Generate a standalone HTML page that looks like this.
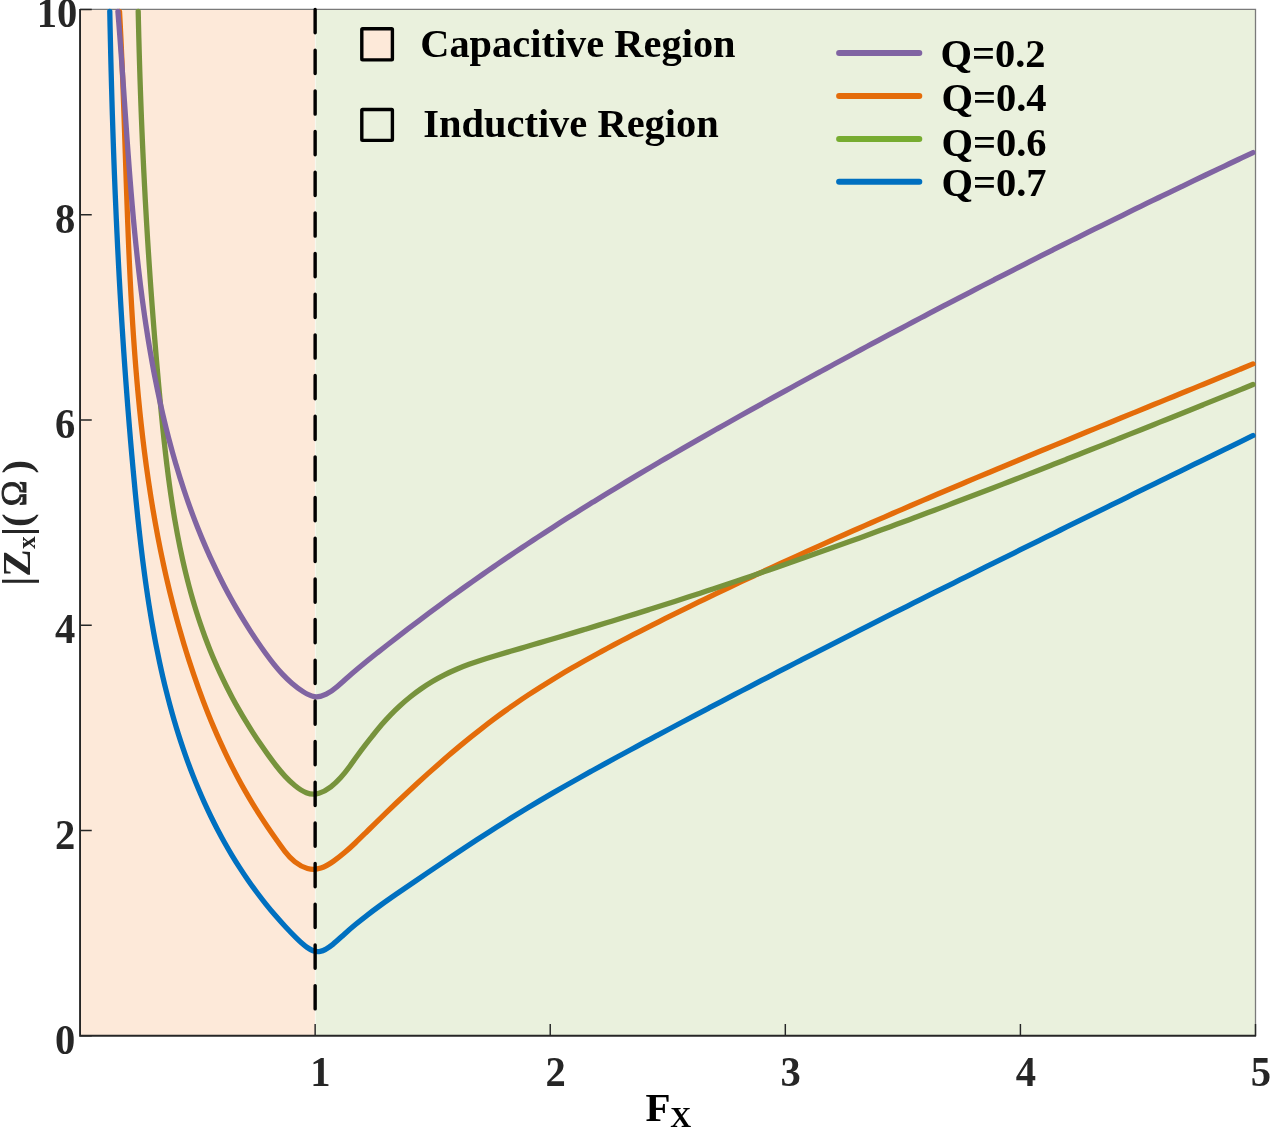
<!DOCTYPE html>
<html lang="en"><head><meta charset="utf-8"><title>|Zx| vs Fx</title>
<style>
html,body{margin:0;padding:0;background:#fff}
body{width:1271px;height:1127px;overflow:hidden;position:relative}
svg{position:absolute;left:0;top:0;display:block}
text{font-family:"Liberation Serif","DejaVu Serif",serif;font-weight:bold;font-size:41px}
.tk{fill:#262626}
.lg{fill:#000}
.cv{fill:none;stroke-width:5.3;stroke-linecap:round;stroke-linejoin:round}
</style></head><body>
<svg width="1271" height="1127" viewBox="0 0 1271 1127">
<rect x="80.05" y="9.4" width="235.09" height="1026.40" fill="#FDE9D9"/>
<rect x="315.14" y="9.4" width="940.36" height="1026.40" fill="#EAF1DD"/>
<line x1="315.39" y1="9.4" x2="315.39" y2="1035.8" stroke="#fff" stroke-opacity="0.55" stroke-width="0.9"/>
<path d="M80.05,9.4 H1255.5 V1035.8" fill="none" stroke="#7a7a7a" stroke-width="1.3"/>
<clipPath id="box"><rect x="80.05" y="6.4" width="1178.45" height="1029.40"/></clipPath>
<g clip-path="url(#box)">
<path class="cv" stroke="#0070C0" d="M109.78,11.30C109.87,16.30 109.98,21.30 110.08,26.29C110.19,31.29 110.30,36.28 110.41,41.26C110.52,46.25 110.64,51.23 110.76,56.21C110.88,61.19 111.00,66.16 111.13,71.14C111.26,76.11 111.39,81.08 111.53,86.04C111.66,91.01 111.80,95.97 111.95,100.93C112.09,105.89 112.24,110.84 112.40,115.79C112.55,120.75 112.71,125.70 112.87,130.65C113.03,135.59 113.20,140.54 113.37,145.48C113.54,150.42 113.72,155.36 113.90,160.30C114.09,165.24 114.27,170.18 114.46,175.11C114.66,180.05 114.85,184.98 115.05,189.91C115.26,194.84 115.46,199.77 115.68,204.70C115.89,209.62 116.11,214.55 116.33,219.47C116.55,224.40 116.78,229.32 117.02,234.24C117.25,239.17 117.49,244.09 117.74,249.01C117.98,253.93 118.23,258.85 118.49,263.77C118.75,268.68 119.01,273.60 119.28,278.52C119.55,283.44 119.83,288.36 120.11,293.27C120.39,298.19 120.68,303.11 120.98,308.02C121.27,312.94 121.57,317.86 121.88,322.77C122.19,327.69 122.50,332.61 122.82,337.52C123.14,342.44 123.47,347.36 123.80,352.28C124.14,357.19 124.48,362.11 124.82,367.03C125.17,371.95 125.53,376.87 125.89,381.80C126.25,386.72 126.62,391.64 127.00,396.56C127.37,401.49 127.76,406.41 128.15,411.34C128.54,416.26 128.94,421.19 129.34,426.12C129.75,431.05 130.16,435.98 130.58,440.92C131.00,445.85 131.43,450.78 131.87,455.72C132.31,460.66 132.75,465.60 133.20,470.54C133.66,475.48 134.12,480.42 134.59,485.37C135.05,490.32 135.53,495.26 136.02,500.21C136.51,505.16 137.01,510.11 137.53,515.06C138.04,520.01 138.57,524.96 139.12,529.90C139.66,534.85 140.23,539.80 140.81,544.74C141.39,549.69 141.99,554.63 142.61,559.56C143.23,564.50 143.87,569.44 144.54,574.37C145.20,579.30 145.89,584.22 146.61,589.14C147.32,594.06 148.06,598.97 148.83,603.88C149.60,608.78 150.40,613.68 151.23,618.58C152.06,623.47 152.92,628.35 153.81,633.22C154.70,638.10 155.63,642.96 156.59,647.82C157.55,652.68 158.55,657.52 159.59,662.35C160.62,667.19 161.70,672.01 162.81,676.82C163.93,681.63 165.08,686.43 166.28,691.21C167.48,696.00 168.72,700.77 170.01,705.53C171.29,710.28 172.62,715.03 174.00,719.75C175.38,724.48 176.81,729.19 178.29,733.88C179.77,738.58 181.29,743.25 182.88,747.91C184.46,752.57 186.09,757.21 187.78,761.84C189.47,766.46 191.21,771.06 193.01,775.65C194.81,780.23 196.67,784.79 198.58,789.33C200.50,793.87 202.48,798.39 204.51,802.87C206.55,807.36 208.65,811.83 210.80,816.26C212.96,820.69 215.18,825.10 217.47,829.47C219.75,833.84 222.10,838.18 224.52,842.48C226.93,846.79 229.41,851.06 231.96,855.29C234.51,859.52 237.12,863.72 239.81,867.87C242.49,872.02 245.24,876.14 248.07,880.21C250.89,884.28 253.79,888.30 256.75,892.28C259.72,896.26 262.76,900.20 265.87,904.08C268.98,907.96 272.17,911.80 275.44,915.58C278.70,919.37 282.04,923.10 285.45,926.77C288.87,930.45 292.36,934.08 295.94,937.64C299.52,941.19 303.21,944.64 307.27,947.53C311.34,950.42 315.80,952.36 320.23,951.41C324.65,950.45 328.90,947.45 332.84,944.31C336.78,941.16 340.51,937.57 344.30,934.17C348.09,930.77 351.90,927.49 355.75,924.31C359.60,921.13 363.47,918.05 367.37,915.05C371.27,912.04 375.19,909.12 379.13,906.25C383.08,903.37 387.05,900.56 391.03,897.77C395.02,894.98 399.02,892.22 403.04,889.47C407.07,886.72 411.10,883.97 415.15,881.21C419.20,878.45 423.27,875.68 427.35,872.91C431.43,870.15 435.52,867.37 439.62,864.60C443.73,861.83 447.85,859.06 451.98,856.30C456.11,853.54 460.25,850.78 464.40,848.03C468.56,845.28 472.72,842.54 476.89,839.82C481.07,837.09 485.26,834.38 489.45,831.69C493.65,828.99 497.85,826.32 502.07,823.66C506.28,821.01 510.51,818.38 514.74,815.77C518.97,813.16 523.21,810.58 527.46,808.02C531.71,805.46 535.97,802.92 540.23,800.40C544.49,797.88 548.76,795.38 553.04,792.90C557.32,790.42 561.61,787.96 565.90,785.51C570.19,783.06 574.49,780.63 578.79,778.21C583.09,775.79 587.40,773.39 591.71,770.99C596.03,768.60 600.35,766.22 604.67,763.85C608.99,761.47 613.32,759.11 617.65,756.75C621.98,754.40 626.32,752.05 630.65,749.71C634.99,747.36 639.33,745.03 643.68,742.69C648.02,740.36 652.37,738.02 656.72,735.70C661.07,733.37 665.42,731.04 669.78,728.72C674.13,726.40 678.49,724.09 682.85,721.77C687.21,719.46 691.57,717.15 695.94,714.84C700.30,712.53 704.67,710.23 709.04,707.93C713.41,705.63 717.78,703.33 722.16,701.03C726.53,698.74 730.91,696.45 735.29,694.16C739.67,691.87 744.05,689.59 748.43,687.30C752.82,685.02 757.20,682.74 761.59,680.46C765.98,678.19 770.37,675.91 774.76,673.64C779.15,671.37 783.55,669.10 787.94,666.84C792.34,664.57 796.73,662.31 801.13,660.05C805.53,657.79 809.93,655.53 814.34,653.28C818.74,651.02 823.15,648.77 827.55,646.52C831.96,644.27 836.37,642.02 840.78,639.78C845.19,637.53 849.60,635.29 854.01,633.05C858.42,630.81 862.84,628.57 867.25,626.34C871.67,624.10 876.09,621.87 880.50,619.64C884.92,617.40 889.34,615.17 893.76,612.95C898.18,610.72 902.61,608.50 907.03,606.27C911.45,604.05 915.88,601.83 920.30,599.61C924.73,597.39 929.16,595.17 933.58,592.96C938.01,590.74 942.44,588.53 946.87,586.32C951.30,584.11 955.73,581.90 960.16,579.69C964.59,577.48 969.03,575.27 973.46,573.07C977.89,570.86 982.33,568.66 986.76,566.46C991.19,564.25 995.63,562.05 1000.07,559.86C1004.50,557.66 1008.94,555.46 1013.37,553.26C1017.81,551.07 1022.25,548.87 1026.69,546.68C1031.12,544.48 1035.56,542.29 1040.00,540.10C1044.44,537.91 1048.88,535.72 1053.32,533.53C1057.76,531.34 1062.20,529.16 1066.64,526.97C1071.08,524.78 1075.52,522.60 1079.96,520.41C1084.40,518.23 1088.84,516.04 1093.28,513.86C1097.72,511.68 1102.16,509.50 1106.60,507.32C1111.04,505.14 1115.48,502.95 1119.92,500.78C1124.36,498.60 1128.80,496.42 1133.24,494.24C1137.68,492.06 1142.12,489.88 1146.56,487.71C1151.00,485.53 1155.43,483.35 1159.87,481.18C1164.31,479.00 1168.75,476.83 1173.19,474.65C1177.63,472.48 1182.06,470.30 1186.50,468.13C1190.94,465.95 1195.37,463.78 1199.81,461.61C1204.24,459.43 1208.68,457.26 1213.11,455.08C1217.55,452.91 1221.98,450.74 1226.41,448.57C1230.85,446.39 1235.28,444.22 1239.71,442.05C1244.14,439.87 1248.57,437.70 1253.00,435.53"/>
<path class="cv" stroke="#E46C0A" d="M119.52,11.30C119.78,15.99 120.03,20.68 120.27,25.38C120.51,30.08 120.74,34.78 120.96,39.48C121.19,44.19 121.40,48.90 121.61,53.61C121.82,58.33 122.02,63.04 122.21,67.76C122.41,72.49 122.60,77.21 122.78,81.94C122.97,86.66 123.14,91.40 123.32,96.13C123.49,100.86 123.66,105.60 123.83,110.34C124.00,115.08 124.16,119.82 124.33,124.56C124.49,129.31 124.65,134.05 124.81,138.80C124.97,143.55 125.13,148.30 125.29,153.06C125.44,157.81 125.60,162.56 125.76,167.32C125.92,172.08 126.08,176.83 126.24,181.59C126.41,186.35 126.57,191.11 126.74,195.87C126.90,200.64 127.08,205.40 127.25,210.16C127.42,214.92 127.60,219.69 127.79,224.45C127.97,229.22 128.16,233.98 128.35,238.75C128.54,243.51 128.75,248.28 128.95,253.04C129.16,257.81 129.37,262.57 129.60,267.34C129.82,272.10 130.05,276.87 130.29,281.63C130.53,286.40 130.78,291.16 131.03,295.92C131.29,300.69 131.56,305.45 131.84,310.21C132.12,314.97 132.41,319.73 132.71,324.49C133.01,329.24 133.33,334.00 133.66,338.76C133.98,343.51 134.32,348.26 134.68,353.02C135.03,357.77 135.40,362.52 135.79,367.26C136.17,372.01 136.57,376.76 136.98,381.50C137.40,386.24 137.83,390.98 138.28,395.72C138.72,400.46 139.19,405.19 139.67,409.92C140.15,414.65 140.66,419.38 141.18,424.11C141.70,428.83 142.23,433.55 142.79,438.27C143.35,442.99 143.93,447.70 144.53,452.41C145.13,457.13 145.75,461.83 146.40,466.53C147.04,471.24 147.71,475.94 148.40,480.63C149.09,485.32 149.80,490.01 150.53,494.70C151.27,499.38 152.03,504.07 152.81,508.74C153.60,513.42 154.41,518.09 155.25,522.75C156.08,527.42 156.94,532.08 157.83,536.73C158.72,541.39 159.64,546.04 160.59,550.68C161.53,555.32 162.50,559.96 163.51,564.59C164.51,569.22 165.54,573.85 166.60,578.47C167.66,583.09 168.75,587.70 169.88,592.31C171.00,596.91 172.15,601.51 173.34,606.11C174.52,610.70 175.74,615.29 176.99,619.86C178.24,624.44 179.53,629.02 180.85,633.58C182.16,638.14 183.52,642.70 184.90,647.25C186.29,651.80 187.72,656.34 189.17,660.87C190.63,665.41 192.13,669.93 193.66,674.44C195.20,678.95 196.77,683.45 198.38,687.93C200.00,692.42 201.65,696.89 203.34,701.34C205.03,705.80 206.77,710.23 208.55,714.65C210.32,719.07 212.15,723.47 214.01,727.84C215.88,732.22 217.79,736.58 219.74,740.91C221.70,745.24 223.70,749.55 225.75,753.83C227.80,758.11 229.89,762.37 232.04,766.60C234.19,770.82 236.38,775.02 238.63,779.19C240.87,783.36 243.17,787.50 245.52,791.60C247.87,795.71 250.27,799.78 252.73,803.82C255.18,807.85 257.69,811.85 260.25,815.82C262.82,819.80 265.44,823.75 268.11,827.69C270.78,831.63 273.51,835.56 276.29,839.50C279.07,843.43 281.86,847.44 284.85,851.28C287.84,855.12 291.05,858.75 294.82,861.78C298.59,864.81 302.98,867.26 307.48,868.48C311.99,869.70 316.55,869.51 320.91,868.06C325.26,866.60 329.46,864.04 333.47,861.23C337.47,858.42 341.26,855.42 344.90,852.32C348.55,849.22 352.05,846.01 355.48,842.73C358.92,839.46 362.28,836.13 365.65,832.80C369.02,829.47 372.39,826.15 375.78,822.83C379.17,819.51 382.57,816.20 385.99,812.90C389.40,809.59 392.83,806.30 396.27,803.02C399.71,799.74 403.16,796.47 406.64,793.22C410.11,789.97 413.59,786.73 417.09,783.51C420.60,780.29 424.12,777.09 427.65,773.91C431.19,770.72 434.75,767.56 438.32,764.42C441.89,761.29 445.49,758.17 449.10,755.08C452.71,751.99 456.35,748.93 460.00,745.89C463.66,742.86 467.33,739.85 471.03,736.88C474.73,733.90 478.45,730.96 482.20,728.05C485.94,725.14 489.71,722.26 493.51,719.42C497.30,716.58 501.12,713.77 504.97,711.01C508.82,708.25 512.69,705.52 516.59,702.84C520.49,700.15 524.41,697.51 528.36,694.90C532.31,692.29 536.29,689.72 540.28,687.18C544.28,684.65 548.30,682.15 552.34,679.67C556.38,677.20 560.44,674.76 564.52,672.35C568.59,669.94 572.69,667.56 576.80,665.21C580.92,662.85 585.04,660.52 589.19,658.22C593.33,655.91 597.49,653.63 601.66,651.37C605.83,649.11 610.02,646.87 614.21,644.65C618.40,642.43 622.61,640.22 626.82,638.03C631.04,635.85 635.26,633.68 639.49,631.52C643.72,629.36 647.95,627.21 652.19,625.08C656.43,622.94 660.68,620.82 664.93,618.70C669.18,616.58 673.43,614.47 677.68,612.37C681.94,610.27 686.20,608.18 690.46,606.10C694.73,604.02 698.99,601.94 703.26,599.87C707.53,597.81 711.80,595.75 716.08,593.69C720.36,591.64 724.64,589.60 728.92,587.56C733.20,585.52 737.49,583.50 741.78,581.47C746.07,579.45 750.36,577.44 754.65,575.43C758.95,573.42 763.25,571.42 767.55,569.43C771.85,567.43 776.15,565.45 780.46,563.46C784.77,561.48 789.08,559.51 793.39,557.54C797.70,555.57 802.02,553.61 806.34,551.66C810.66,549.70 814.98,547.75 819.30,545.81C823.62,543.86 827.95,541.92 832.28,539.99C836.61,538.06 840.94,536.13 845.27,534.21C849.61,532.29 853.94,530.37 858.28,528.46C862.62,526.55 866.96,524.65 871.30,522.74C875.65,520.84 879.99,518.95 884.34,517.06C888.69,515.16 893.04,513.28 897.39,511.39C901.74,509.51 906.10,507.63 910.45,505.76C914.81,503.89 919.17,502.02 923.53,500.15C927.89,498.28 932.25,496.42 936.62,494.56C940.98,492.71 945.35,490.85 949.72,489.00C954.08,487.15 958.45,485.30 962.83,483.46C967.20,481.61 971.57,479.77 975.95,477.93C980.32,476.09 984.70,474.26 989.08,472.43C993.45,470.59 997.83,468.76 1002.21,466.94C1006.60,465.11 1010.98,463.29 1015.36,461.46C1019.75,459.64 1024.13,457.82 1028.52,456.00C1032.91,454.19 1037.29,452.37 1041.68,450.56C1046.07,448.74 1050.46,446.93 1054.86,445.12C1059.25,443.31 1063.64,441.50 1068.03,439.69C1072.43,437.88 1076.82,436.08 1081.22,434.27C1085.62,432.47 1090.01,430.66 1094.41,428.86C1098.81,427.06 1103.21,425.25 1107.61,423.45C1112.01,421.65 1116.41,419.85 1120.81,418.05C1125.21,416.25 1129.61,414.45 1134.02,412.65C1138.42,410.85 1142.82,409.05 1147.23,407.25C1151.63,405.45 1156.04,403.65 1160.44,401.85C1164.85,400.05 1169.25,398.25 1173.66,396.45C1178.07,394.64 1182.47,392.84 1186.88,391.04C1191.29,389.24 1195.69,387.43 1200.10,385.63C1204.51,383.83 1208.92,382.02 1213.32,380.22C1217.73,378.41 1222.14,376.60 1226.55,374.79C1230.96,372.98 1235.37,371.17 1239.77,369.36C1244.18,367.55 1248.59,365.74 1253.00,363.92"/>
<path class="cv" stroke="#77933C" d="M138.20,11.30C138.30,15.83 138.40,20.35 138.51,24.86C138.61,29.38 138.72,33.89 138.84,38.40C138.96,42.91 139.08,47.42 139.20,51.92C139.33,56.42 139.46,60.92 139.60,65.42C139.73,69.91 139.88,74.41 140.02,78.90C140.17,83.39 140.32,87.87 140.48,92.36C140.64,96.84 140.80,101.32 140.97,105.80C141.13,110.28 141.31,114.75 141.48,119.23C141.66,123.70 141.85,128.17 142.04,132.64C142.22,137.11 142.42,141.57 142.62,146.04C142.82,150.50 143.02,154.97 143.23,159.43C143.44,163.89 143.66,168.35 143.88,172.81C144.10,177.27 144.33,181.73 144.56,186.18C144.79,190.64 145.03,195.09 145.27,199.55C145.52,204.00 145.77,208.45 146.02,212.90C146.27,217.36 146.53,221.81 146.80,226.26C147.06,230.71 147.34,235.16 147.61,239.61C147.89,244.06 148.17,248.51 148.46,252.96C148.75,257.41 149.04,261.86 149.34,266.31C149.64,270.76 149.94,275.21 150.25,279.66C150.56,284.11 150.88,288.57 151.20,293.02C151.53,297.47 151.85,301.92 152.19,306.38C152.52,310.83 152.86,315.28 153.21,319.74C153.55,324.19 153.90,328.65 154.26,333.11C154.62,337.57 154.98,342.03 155.35,346.49C155.72,350.95 156.09,355.41 156.47,359.87C156.86,364.34 157.24,368.81 157.64,373.27C158.03,377.74 158.43,382.21 158.83,386.68C159.24,391.16 159.65,395.63 160.07,400.11C160.48,404.59 160.91,409.07 161.34,413.55C161.77,418.03 162.22,422.51 162.67,426.99C163.13,431.47 163.59,435.95 164.08,440.43C164.56,444.91 165.05,449.39 165.57,453.86C166.08,458.34 166.62,462.81 167.17,467.28C167.72,471.75 168.29,476.21 168.89,480.67C169.49,485.13 170.11,489.59 170.75,494.04C171.40,498.48 172.07,502.93 172.77,507.36C173.46,511.80 174.19,516.22 174.95,520.64C175.71,525.06 176.50,529.47 177.33,533.87C178.15,538.27 179.01,542.66 179.90,547.04C180.80,551.42 181.73,555.79 182.70,560.15C183.67,564.51 184.68,568.85 185.73,573.18C186.79,577.51 187.88,581.83 189.02,586.13C190.16,590.43 191.35,594.72 192.58,598.99C193.81,603.27 195.09,607.52 196.42,611.76C197.75,616.00 199.13,620.22 200.56,624.43C202.00,628.63 203.48,632.82 205.02,636.99C206.57,641.15 208.16,645.30 209.82,649.43C211.48,653.55 213.19,657.66 214.96,661.74C216.74,665.83 218.57,669.89 220.45,673.93C222.34,677.97 224.28,681.98 226.28,685.98C228.28,689.97 230.33,693.93 232.44,697.88C234.55,701.82 236.72,705.73 238.94,709.62C241.16,713.51 243.43,717.37 245.76,721.20C248.08,725.04 250.46,728.84 252.89,732.62C255.33,736.39 257.81,740.14 260.35,743.85C262.88,747.57 265.47,751.25 268.11,754.90C270.75,758.56 273.43,762.19 276.20,765.75C278.97,769.31 281.84,772.79 284.91,776.10C287.99,779.42 291.26,782.57 294.83,785.47C298.40,788.37 302.29,791.10 306.35,792.71C310.42,794.32 314.70,794.60 318.92,793.31C323.15,792.02 327.23,789.55 330.85,786.83C334.48,784.10 337.73,780.97 340.75,777.60C343.77,774.23 346.55,770.62 349.23,766.96C351.91,763.29 354.49,759.55 357.09,755.92C359.69,752.29 362.33,748.80 365.02,745.34C367.70,741.88 370.43,738.47 373.21,734.98C375.99,731.50 378.81,727.97 381.74,724.54C384.67,721.11 387.71,717.78 390.84,714.55C393.97,711.32 397.20,708.20 400.52,705.19C403.84,702.17 407.26,699.27 410.76,696.48C414.26,693.70 417.85,691.03 421.52,688.50C425.18,685.96 428.94,683.55 432.76,681.27C436.59,678.99 440.50,676.85 444.47,674.85C448.45,672.85 452.49,670.99 456.60,669.25C460.70,667.51 464.86,665.88 469.07,664.34C473.27,662.80 477.51,661.34 481.79,659.95C486.06,658.56 490.36,657.23 494.68,655.93C498.99,654.63 503.32,653.37 507.65,652.11C511.98,650.86 516.31,649.60 520.63,648.34C524.95,647.09 529.26,645.83 533.58,644.56C537.89,643.30 542.19,642.04 546.50,640.77C550.80,639.50 555.10,638.23 559.39,636.96C563.69,635.69 567.98,634.41 572.27,633.13C576.56,631.85 580.84,630.57 585.12,629.28C589.40,627.99 593.68,626.70 597.96,625.40C602.23,624.11 606.50,622.80 610.77,621.50C615.04,620.19 619.31,618.88 623.57,617.56C627.84,616.25 632.10,614.92 636.36,613.60C640.62,612.27 644.88,610.93 649.14,609.59C653.40,608.25 657.65,606.91 661.91,605.55C666.16,604.20 670.41,602.84 674.66,601.47C678.91,600.10 683.16,598.73 687.41,597.35C691.66,595.97 695.91,594.58 700.15,593.19C704.40,591.79 708.64,590.39 712.89,588.99C717.13,587.58 721.37,586.17 725.61,584.75C729.85,583.33 734.09,581.91 738.33,580.48C742.57,579.05 746.80,577.61 751.04,576.17C755.27,574.73 759.50,573.28 763.74,571.83C767.97,570.37 772.20,568.91 776.43,567.45C780.66,565.98 784.89,564.51 789.11,563.04C793.34,561.56 797.56,560.08 801.79,558.60C806.01,557.11 810.23,555.62 814.46,554.12C818.68,552.63 822.90,551.13 827.12,549.62C831.33,548.11 835.55,546.60 839.77,545.09C843.98,543.57 848.20,542.05 852.41,540.52C856.62,539.00 860.84,537.47 865.05,535.94C869.26,534.40 873.47,532.86 877.67,531.32C881.88,529.78 886.09,528.23 890.29,526.68C894.50,525.12 898.70,523.57 902.91,522.01C907.11,520.45 911.31,518.88 915.51,517.32C919.71,515.75 923.91,514.18 928.11,512.60C932.31,511.02 936.50,509.44 940.70,507.86C944.89,506.28 949.09,504.69 953.28,503.10C957.47,501.51 961.66,499.92 965.85,498.32C970.04,496.72 974.23,495.12 978.42,493.52C982.60,491.92 986.79,490.31 990.98,488.70C995.16,487.09 999.34,485.48 1003.53,483.86C1007.71,482.24 1011.89,480.63 1016.07,479.00C1020.25,477.38 1024.43,475.76 1028.61,474.13C1032.78,472.51 1036.96,470.88 1041.13,469.24C1045.31,467.61 1049.48,465.98 1053.65,464.34C1057.83,462.70 1062.00,461.06 1066.17,459.42C1070.34,457.78 1074.51,456.14 1078.67,454.49C1082.84,452.85 1087.01,451.20 1091.17,449.55C1095.34,447.90 1099.50,446.25 1103.66,444.60C1107.83,442.94 1111.99,441.29 1116.15,439.63C1120.31,437.98 1124.47,436.32 1128.62,434.66C1132.78,433.00 1136.94,431.34 1141.09,429.68C1145.25,428.01 1149.40,426.35 1153.56,424.68C1157.71,423.02 1161.86,421.35 1166.01,419.69C1170.16,418.02 1174.31,416.35 1178.46,414.68C1182.61,413.01 1186.75,411.34 1190.90,409.67C1195.05,408.00 1199.19,406.33 1203.33,404.66C1207.48,402.99 1211.62,401.31 1215.76,399.64C1219.90,397.97 1224.04,396.30 1228.18,394.62C1232.32,392.95 1236.46,391.27 1240.59,389.60C1244.73,387.93 1248.87,386.25 1253.00,384.58"/>
<path class="cv" stroke="#8064A2" d="M117.90,11.30C118.25,15.61 118.59,19.92 118.92,24.23C119.26,28.55 119.59,32.87 119.91,37.19C120.23,41.51 120.55,45.84 120.87,50.18C121.18,54.51 121.49,58.85 121.80,63.19C122.10,67.53 122.41,71.87 122.71,76.22C123.01,80.56 123.31,84.91 123.61,89.27C123.91,93.62 124.21,97.97 124.51,102.33C124.81,106.69 125.11,111.05 125.41,115.41C125.71,119.78 126.01,124.14 126.32,128.51C126.62,132.87 126.93,137.24 127.25,141.61C127.56,145.98 127.88,150.35 128.20,154.72C128.52,159.09 128.85,163.46 129.18,167.83C129.51,172.20 129.85,176.58 130.20,180.95C130.55,185.32 130.90,189.70 131.26,194.07C131.63,198.44 132.00,202.81 132.38,207.18C132.76,211.55 133.15,215.92 133.55,220.29C133.96,224.66 134.37,229.03 134.79,233.40C135.22,237.77 135.66,242.13 136.11,246.49C136.56,250.86 137.02,255.22 137.50,259.58C137.98,263.94 138.47,268.29 138.98,272.65C139.49,277.00 140.01,281.35 140.55,285.70C141.09,290.05 141.65,294.39 142.22,298.74C142.80,303.08 143.39,307.42 144.00,311.75C144.61,316.08 145.24,320.42 145.89,324.74C146.54,329.07 147.22,333.39 147.91,337.71C148.60,342.02 149.31,346.34 150.05,350.64C150.79,354.95 151.54,359.26 152.33,363.55C153.11,367.85 153.91,372.14 154.75,376.43C155.58,380.71 156.43,384.99 157.31,389.27C158.19,393.54 159.10,397.81 160.04,402.07C160.97,406.33 161.93,410.58 162.92,414.83C163.91,419.08 164.93,423.32 165.98,427.55C167.03,431.78 168.10,436.00 169.21,440.21C170.32,444.43 171.46,448.63 172.63,452.82C173.80,457.02 175.00,461.20 176.24,465.37C177.48,469.54 178.74,473.71 180.05,477.85C181.35,482.00 182.69,486.14 184.06,490.27C185.44,494.39 186.84,498.50 188.29,502.60C189.74,506.70 191.22,510.79 192.74,514.86C194.26,518.93 195.82,522.99 197.41,527.03C199.01,531.07 200.65,535.09 202.33,539.11C204.00,543.12 205.72,547.11 207.48,551.09C209.24,555.06 211.04,559.02 212.88,562.97C214.73,566.91 216.61,570.84 218.54,574.74C220.47,578.65 222.45,582.54 224.46,586.41C226.48,590.27 228.55,594.12 230.66,597.95C232.77,601.78 234.93,605.59 237.13,609.38C239.34,613.17 241.59,616.93 243.89,620.68C246.19,624.42 248.54,628.14 250.94,631.84C253.34,635.54 255.79,639.22 258.29,642.88C260.79,646.53 263.34,650.16 265.95,653.76C268.56,657.36 271.24,660.91 274.01,664.36C276.79,667.82 279.67,671.17 282.68,674.38C285.70,677.58 288.85,680.64 292.17,683.48C295.49,686.33 298.99,688.98 302.69,691.37C306.39,693.75 310.31,696.00 314.30,696.65C318.29,697.30 322.34,696.20 326.22,694.23C330.10,692.26 333.78,689.45 337.35,686.42C340.92,683.39 344.39,680.21 347.82,677.23C351.24,674.24 354.62,671.36 357.97,668.55C361.33,665.74 364.65,663.00 367.96,660.31C371.27,657.62 374.57,654.97 377.89,652.34C381.20,649.71 384.53,647.10 387.89,644.47C391.25,641.85 394.63,639.22 398.04,636.58C401.44,633.95 404.87,631.31 408.32,628.68C411.77,626.04 415.24,623.41 418.73,620.77C422.22,618.14 425.73,615.51 429.25,612.89C432.77,610.26 436.30,607.64 439.85,605.03C443.40,602.42 446.96,599.82 450.53,597.22C454.10,594.63 457.68,592.05 461.26,589.48C464.85,586.91 468.44,584.36 472.04,581.81C475.64,579.27 479.24,576.74 482.85,574.23C486.46,571.71 490.08,569.20 493.71,566.71C497.33,564.22 500.96,561.74 504.59,559.27C508.23,556.80 511.87,554.35 515.52,551.90C519.16,549.46 522.82,547.02 526.48,544.60C530.13,542.18 533.80,539.77 537.47,537.37C541.14,534.97 544.81,532.58 548.49,530.20C552.17,527.82 555.86,525.45 559.55,523.09C563.24,520.73 566.93,518.38 570.63,516.04C574.33,513.70 578.04,511.37 581.75,509.05C585.46,506.73 589.17,504.42 592.89,502.12C596.61,499.82 600.33,497.52 604.06,495.24C607.79,492.95 611.52,490.68 615.26,488.41C619.00,486.14 622.74,483.88 626.48,481.63C630.23,479.38 633.98,477.13 637.73,474.89C641.48,472.66 645.24,470.43 649.00,468.20C652.76,465.98 656.53,463.77 660.30,461.56C664.06,459.35 667.84,457.14 671.61,454.95C675.39,452.75 679.17,450.56 682.95,448.38C686.73,446.20 690.51,444.02 694.30,441.85C698.09,439.67 701.88,437.51 705.68,435.34C709.47,433.18 713.27,431.03 717.07,428.88C720.87,426.72 724.67,424.58 728.48,422.44C732.28,420.29 736.09,418.16 739.90,416.02C743.71,413.89 747.52,411.76 751.34,409.63C755.15,407.51 758.97,405.39 762.79,403.27C766.61,401.15 770.43,399.03 774.26,396.92C778.08,394.81 781.90,392.70 785.73,390.59C789.56,388.49 793.39,386.38 797.22,384.28C801.05,382.18 804.88,380.08 808.72,377.99C812.55,375.89 816.39,373.80 820.23,371.71C824.07,369.63 827.91,367.54 831.75,365.46C835.59,363.37 839.44,361.29 843.28,359.22C847.13,357.14 850.97,355.07 854.82,353.00C858.67,350.93 862.53,348.86 866.38,346.79C870.23,344.73 874.09,342.67 877.94,340.61C881.80,338.55 885.66,336.49 889.52,334.44C893.38,332.39 897.24,330.34 901.10,328.29C904.97,326.25 908.83,324.20 912.70,322.16C916.57,320.12 920.43,318.08 924.30,316.05C928.17,314.02 932.05,311.98 935.92,309.96C939.79,307.93 943.67,305.90 947.55,303.88C951.42,301.86 955.30,299.84 959.18,297.82C963.06,295.81 966.94,293.80 970.83,291.79C974.71,289.78 978.60,287.77 982.48,285.77C986.37,283.76 990.26,281.76 994.15,279.77C998.04,277.77 1001.93,275.77 1005.82,273.78C1009.72,271.79 1013.61,269.80 1017.51,267.82C1021.40,265.84 1025.30,263.85 1029.20,261.88C1033.10,259.90 1037.00,257.92 1040.90,255.95C1044.81,253.98 1048.71,252.01 1052.61,250.04C1056.52,248.08 1060.43,246.12 1064.34,244.16C1068.24,242.20 1072.15,240.24 1076.06,238.29C1079.98,236.33 1083.89,234.38 1087.80,232.44C1091.72,230.49 1095.63,228.55 1099.55,226.61C1103.47,224.67 1107.39,222.73 1111.30,220.80C1115.22,218.86 1119.15,216.93 1123.07,215.01C1126.99,213.08 1130.92,211.16 1134.84,209.23C1138.77,207.31 1142.69,205.40 1146.62,203.48C1150.55,201.57 1154.48,199.66 1158.41,197.75C1162.34,195.84 1166.27,193.94 1170.21,192.04C1174.14,190.13 1178.08,188.24 1182.01,186.34C1185.95,184.45 1189.89,182.56 1193.82,180.67C1197.76,178.78 1201.70,176.89 1205.64,175.01C1209.59,173.13 1213.53,171.25 1217.47,169.38C1221.42,167.50 1225.36,165.63 1229.31,163.76C1233.25,161.90 1237.20,160.03 1241.15,158.17C1245.10,156.31 1249.05,154.45 1253.00,152.59"/>
<line x1="315.14" y1="9.5" x2="315.14" y2="1012" stroke="#000" stroke-width="3.4" stroke-dasharray="23.3 17.37" stroke-linecap="round"/>
</g>
<path d="M80.05,8.9 V1035.8 H1256.1" fill="none" stroke="#262626" stroke-width="1.9" stroke-linejoin="miter"/>
<path d="M80.05,1035.80 h11.7 M80.05,830.52 h11.7 M80.05,625.24 h11.7 M80.05,419.96 h11.7 M80.05,214.68 h11.7 M80.05,9.40 h11.7 M315.14,1035.8 v-11.7 M550.23,1035.8 v-11.7 M785.32,1035.8 v-11.7 M1020.41,1035.8 v-11.7 M1255.50,1035.8 v-11.7" stroke="#262626" stroke-width="1.45" fill="none"/>
<text class="tk" transform="translate(75.3,1053.9) scale(0.99,1.052)" text-anchor="end">0</text>
<text class="tk" transform="translate(75.3,848.6) scale(0.99,1.052)" text-anchor="end">2</text>
<text class="tk" transform="translate(75.3,643.3) scale(0.99,1.052)" text-anchor="end">4</text>
<text class="tk" transform="translate(75.3,438.1) scale(0.99,1.052)" text-anchor="end">6</text>
<text class="tk" transform="translate(75.3,232.8) scale(0.99,1.052)" text-anchor="end">8</text>
<text class="tk" transform="translate(77.3,27.2) scale(0.99,1.052)" text-anchor="end">10</text>
<text class="tk" transform="translate(320.5,1086.3) scale(0.99,1.05)" text-anchor="middle">1</text>
<text class="tk" transform="translate(555.6,1086.3) scale(0.99,1.05)" text-anchor="middle">2</text>
<text class="tk" transform="translate(790.7,1086.3) scale(0.99,1.05)" text-anchor="middle">3</text>
<text class="tk" transform="translate(1025.8,1086.3) scale(0.99,1.05)" text-anchor="middle">4</text>
<text class="tk" transform="translate(1260.9,1086.3) scale(0.99,1.05)" text-anchor="middle">5</text>
<text class="lg" x="645.6" y="1121.2">F<tspan style="font-size:29px" dx="-0.4" dy="5.9">X</tspan></text>
<g transform="translate(0,582.5) rotate(-90)" class="tk">
<text x="-3.3" y="29.9">|Z</text>
<text x="33.8" y="35.3" style="font-size:25px">x</text>
<text x="46.6" y="29.9">|(</text>
<text transform="translate(76.2,26.3) scale(0.95,1)" style="font-weight:normal;font-size:36.5px" stroke="#262626" stroke-width="0.9">Ω</text>
<text x="109" y="29.9">)</text>
</g>
<rect x="361.8" y="28.7" width="30.6" height="31.2" rx="0.8" fill="#FDE9D9" stroke="#000" stroke-width="3.4" stroke-linejoin="round"/>
<rect x="361.8" y="109.45" width="30.6" height="30.9" rx="0.8" fill="#EAF1DD" stroke="#000" stroke-width="3.4" stroke-linejoin="round"/>
<text class="lg" style="font-size:40px" transform="translate(420.2,56.7) scale(1.0105,1.012)">Capacitive Region</text>
<text class="lg" style="font-size:40px" transform="translate(423.2,137.2) scale(1.0115,1.012)">Inductive Region</text>
<line x1="839.1" y1="52.95" x2="919.3" y2="52.95" stroke="#8064A2" stroke-width="6" stroke-linecap="round"/>
<text class="lg" style="font-size:40px" transform="translate(940.4,67.2) scale(1.013,1)">Q=0.2</text>
<line x1="839.1" y1="95.9" x2="919.3" y2="95.9" stroke="#E46C0A" stroke-width="6" stroke-linecap="round"/>
<text class="lg" style="font-size:40px" transform="translate(941.4,110.6) scale(1.013,1)">Q=0.4</text>
<line x1="839.1" y1="138.9" x2="919.3" y2="138.9" stroke="#77AC30" stroke-width="6" stroke-linecap="round"/>
<text class="lg" style="font-size:40px" transform="translate(941.4,155.8) scale(1.013,1)">Q=0.6</text>
<line x1="839.1" y1="181.75" x2="919.3" y2="181.75" stroke="#0070C0" stroke-width="6" stroke-linecap="round"/>
<text class="lg" style="font-size:40px" transform="translate(941.4,195.6) scale(1.013,1)">Q=0.7</text>
</svg></body></html>
